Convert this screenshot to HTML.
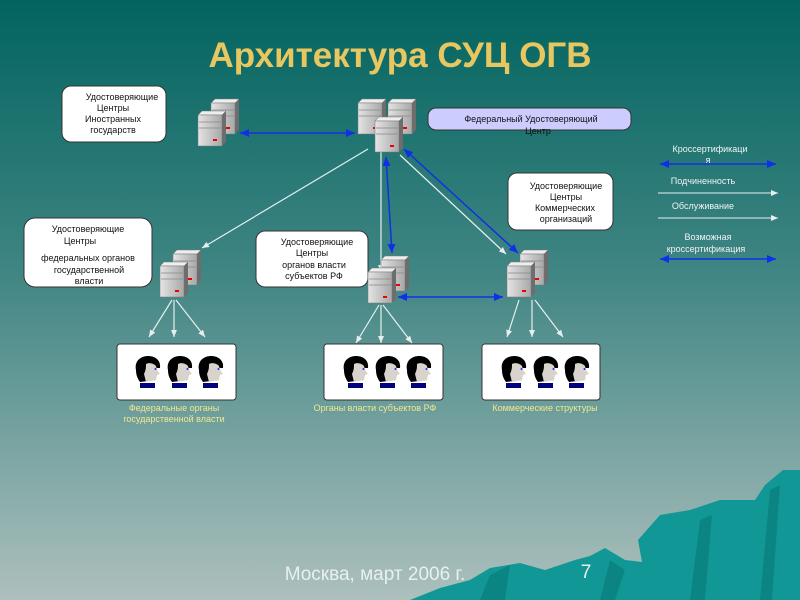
<!DOCTYPE html>
<html><head><meta charset="utf-8"><style>
html,body{margin:0;padding:0;width:800px;height:600px;overflow:hidden}
svg{display:block}
text{font-family:"Liberation Sans",sans-serif}
</style></head><body>
<svg width="800" height="600" viewBox="0 0 800 600" xmlns="http://www.w3.org/2000/svg">
<defs>
<linearGradient id="bg" x1="0" y1="0" x2="0" y2="1">
<stop offset="0" stop-color="#02645f"/><stop offset="0.45" stop-color="#3f8583"/><stop offset="1" stop-color="#adc0bd"/>
</linearGradient>
<linearGradient id="fr" x1="0" y1="0" x2="1" y2="0">
<stop offset="0" stop-color="#e4e4e4"/><stop offset="1" stop-color="#a8a8a8"/>
</linearGradient>
<g id="srv">
<polygon points="0,4 4,0 28,0 24,4" fill="#eeeeee" stroke="#777" stroke-width="0.5"/>
<polygon points="24,4 28,0 28,31 24,35" fill="#6d6d6d"/>
<rect x="0" y="4" width="24" height="31" fill="url(#fr)" stroke="#777" stroke-width="0.5"/>
<line x1="1" y1="11" x2="23" y2="11" stroke="#888" stroke-width="0.8"/>
<line x1="1" y1="17" x2="23" y2="17" stroke="#888" stroke-width="0.8"/>
<rect x="15" y="28" width="4" height="2" fill="#e00"/>
</g>
<g id="pair"><use href="#srv" x="13" y="0"/><use href="#srv" x="0" y="12"/></g>
<g id="head">
<path d="M2,14 C0,4 8,0 14,0 C22,0 27,5 26,12 L22,12 L22,24 L6,26 C3,22 2,18 2,14Z" fill="#000"/>
<path d="M12,8 C16,6 20,8 22,10 L23,14 L26,18 L23,19 L22,24 L12,26 L10,18 C12,14 12,11 12,8Z" fill="#d8d4cc"/>
<circle cx="21.5" cy="13" r="1" fill="#22f"/>
<rect x="6" y="27" width="15" height="5" fill="#02027a"/>
</g>
<marker id="aw" markerWidth="8" markerHeight="8" refX="7" refY="4" orient="auto" markerUnits="userSpaceOnUse"><path d="M0,1 L7,4 L0,7Z" fill="#e8eeee"/></marker>
<marker id="ab" markerWidth="10" markerHeight="10" refX="9" refY="5" orient="auto-start-reverse" markerUnits="userSpaceOnUse"><path d="M0,1 L9,5 L0,9Z" fill="#1030e8"/></marker>
</defs>
<rect width="800" height="600" fill="url(#bg)"/>
<!-- mountains -->
<path d="M410,600 L440,588 L470,580 L490,568 L520,563 L545,570 L575,560 L590,556 L605,548 L625,560 L642,562 L638,540 L660,515 L690,510 L720,500 L755,500 L765,485 L783,470 L800,470 L800,600Z" fill="#119896"/>
<path d="M480,600 L490,575 L510,565 L505,600Z M600,600 L610,560 L625,570 L615,600Z M690,600 L700,520 L712,515 L705,600Z M760,600 L770,490 L780,485 L772,600Z" fill="#0b8583"/>
<text x="400" y="67" text-anchor="middle" font-size="35" font-weight="bold" fill="#e8c660">Архитектура СУЦ ОГВ</text>
<!-- label boxes -->
<g fill="#fff" stroke="#333" stroke-width="1">
<rect x="62" y="86" width="104" height="56" rx="9"/>
<rect x="24" y="218" width="128" height="69" rx="11"/>
<rect x="256" y="231" width="112" height="56" rx="9"/>
<rect x="508" y="173" width="105" height="57" rx="9"/>
<rect x="428" y="108" width="203" height="22" rx="8" fill="#ccccff"/>
</g>
<g font-size="9" fill="#111" text-anchor="middle">
<text x="122" y="100">Удостоверяющие</text><text x="113" y="111">Центры</text><text x="113" y="122">Иностранных</text><text x="113" y="133">государств</text>
<text x="88" y="232">Удостоверяющие</text><text x="80" y="244">Центры</text><text x="88" y="261">федеральных органов</text><text x="89" y="273">государственной</text><text x="89" y="284">власти</text>
<text x="317" y="245">Удостоверяющие</text><text x="312" y="256">Центры</text><text x="314" y="268">органов власти</text><text x="314" y="279">субъектов РФ</text>
<text x="566" y="189">Удостоверяющие</text><text x="566" y="200">Центры</text><text x="565" y="211">Коммерческих</text><text x="566" y="222">организаций</text>
<text x="531" y="122">Федеральный Удостоверяющий</text><text x="538" y="134">Центр</text>
</g>
<!-- legend -->
<g font-size="9" fill="#f0f4f4" text-anchor="middle">
<text x="710" y="152">Кроссертификаци</text><text x="708" y="163">я</text>
<text x="703" y="184">Подчиненность</text>
<text x="703" y="209">Обслуживание</text>
<text x="708" y="240">Возможная</text><text x="706" y="252">кроссертификация</text>
</g>
<line x1="660" y1="164" x2="776" y2="164" stroke="#1030e8" stroke-width="1.5" marker-start="url(#ab)" marker-end="url(#ab)"/>
<line x1="658" y1="193" x2="778" y2="193" stroke="#e8eeee" stroke-width="1" marker-end="url(#aw)"/>
<line x1="658" y1="218" x2="778" y2="218" stroke="#e8eeee" stroke-width="1" marker-end="url(#aw)"/>
<line x1="660" y1="259" x2="776" y2="259" stroke="#1030e8" stroke-width="1.5" marker-start="url(#ab)" marker-end="url(#ab)"/>
<!-- connectors -->
<g stroke="#e8eeee" stroke-width="1.2" fill="none" marker-end="url(#aw)">
<line x1="368" y1="149" x2="202" y2="248"/>
<line x1="381" y1="152" x2="381" y2="272"/>
<line x1="400" y1="155" x2="506" y2="254"/>
<line x1="172" y1="300" x2="149" y2="337"/><line x1="174" y1="300" x2="174" y2="337"/><line x1="176" y1="300" x2="205" y2="337"/>
<line x1="379" y1="305" x2="356" y2="343"/><line x1="381" y1="305" x2="381" y2="343"/><line x1="383" y1="305" x2="412" y2="343"/>
<line x1="519" y1="300" x2="507" y2="337"/><line x1="532" y1="300" x2="532" y2="337"/><line x1="535" y1="300" x2="563" y2="337"/>
</g>
<g stroke="#1030e8" stroke-width="1.5" fill="none" marker-start="url(#ab)" marker-end="url(#ab)">
<line x1="240" y1="133" x2="355" y2="133"/>
<line x1="386" y1="157" x2="392" y2="253"/>
<line x1="404" y1="149" x2="518" y2="253"/>
<line x1="398" y1="297" x2="503" y2="297"/>
</g>
<!-- servers -->
<use href="#pair" x="198" y="99"/>
<use href="#srv" x="358" y="99"/><use href="#srv" x="388" y="99"/><use href="#srv" x="375" y="117"/>
<use href="#pair" x="160" y="250"/>
<use href="#pair" x="368" y="256"/>
<use href="#pair" x="507" y="250"/>
<!-- people boxes -->
<g fill="#fff" stroke="#333">
<rect x="117" y="344" width="119" height="56" rx="3"/>
<rect x="324" y="344" width="119" height="56" rx="3"/>
<rect x="482" y="344" width="118" height="56" rx="3"/>
</g>
<use href="#head" x="134" y="356"/><use href="#head" x="166" y="356"/><use href="#head" x="197" y="356"/>
<use href="#head" x="342" y="356"/><use href="#head" x="374" y="356"/><use href="#head" x="405" y="356"/>
<use href="#head" x="500" y="356"/><use href="#head" x="532" y="356"/><use href="#head" x="563" y="356"/>
<g font-size="9" fill="#f0e890" text-anchor="middle">
<text x="174" y="411">Федеральные органы</text><text x="174" y="422">государственной власти</text>
<text x="375" y="411">Органы власти субъектов РФ</text>
<text x="545" y="411">Коммерческие структуры</text>
</g>
<text x="375" y="580" text-anchor="middle" font-size="19" fill="#e8f0f0">Москва, март 2006 г.</text>
<text x="586" y="578" text-anchor="middle" font-size="19" fill="#e8f0f0">7</text>
</svg>
</body></html>
